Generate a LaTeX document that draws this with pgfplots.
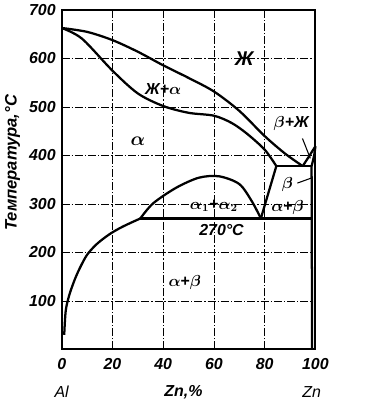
\documentclass[border=0pt]{standalone}
\usepackage{pgfplots}
\pgfplotsset{compat=1.18}
\usepackage{bm}
\usepackage{fontspec}
\setmainfont{Liberation Sans}
\pgfplotsset{phase/.style={black, solid, mark=none, line width=1.7pt}}
\begin{document}
\begin{tikzpicture}
\begin{axis}[
  at={(0pt,0pt)}, anchor=south west,
  scale only axis, width=191.25pt, height=255.75pt,
  xmin=0, xmax=100, ymin=0, ymax=700,
  xtick={0,20,40,60,80,100}, ytick={100,200,300,400,500,600,700},
  grid=major,
  major grid style={black, line width=0.5pt, dash pattern=on 6pt off 1.5pt on 1pt off 1.5pt},
  axis line style={line width=1.4pt},
  tick style={draw=none},
  tick label style={font=\bfseries\itshape\fontsize{12}{13}\selectfont},
  xticklabel style={yshift=-3pt},
  yticklabel style={xshift=-1pt},
  /pgf/number format/assume math mode=true,
  ylabel={Температура,°C},
  ylabel style={font=\bfseries\itshape\fontsize{12.5}{14}\selectfont, at={(rel axis cs:0,0.55)}, yshift=37pt, anchor=center},
  clip=false,
]
% liquidus
\addplot[phase, smooth] coordinates {(0,663) (10,655) (20,638) (30,614) (40,586) (50,560) (60,532) (70,492) (80,440) (88,404) (95,378)};
% solidus
\addplot[phase, smooth] coordinates {(0,663) (8,641) (20,575) (30,528) (40,502) (50,488) (60,482) (67,467) (73,445) (80,412) (84.6,378)};
% alpha solvus
\addplot[phase, smooth] coordinates {(1.0,30) (1.6,80) (3,112) (5,142) (7,166) (10,195) (14,218) (19,238) (24,253) (31,270)};
% miscibility dome
\addplot[phase, smooth] coordinates {(31,270) (36,301) (45,333) (54,354) (62,357) (70,341) (75,305) (78.5,270)};
% beta left boundary
\addplot[phase] coordinates {(84.6,378) (78.5,270)};
% eutectic line
\addplot[phase] coordinates {(84.6,378) (98.5,378)};
% eutectoid line
\addplot[phase] coordinates {(31,270) (98.5,270)};
% Zn solvus
\addplot[phase] coordinates {(98.5,378) (98.7,0)};
% Zn liquidus and solidus
\addplot[phase, smooth] coordinates {(95,378) (97.6,399) (100,419)};
\addplot[phase, smooth] coordinates {(98.5,378) (99.5,400) (100,419)};
% pointers
\addplot[phase, line width=0.8pt] coordinates {(94.9,435) (98,394)};
\addplot[phase, line width=0.8pt] coordinates {(92.9,343) (98.2,353)};
% labels
\node[font=\bfseries\itshape\fontsize{15}{16}\selectfont] at (axis cs:72,600) {Ж};
\node[font=\bfseries\itshape\fontsize{12}{13}\selectfont] at (axis cs:40,538) {Ж+$\bm{\alpha}$};
\node[font=\bfseries\fontsize{14}{15}\selectfont] at (axis cs:30,429) {$\bm{\alpha}$};
\node[font=\bfseries\itshape\fontsize{12}{13}\selectfont] at (axis cs:90.5,466) {$\bm{\beta}$+Ж};
\node[font=\bfseries\fontsize{13}{14}\selectfont] at (axis cs:89,341) {$\bm{\beta}$};
\node[font=\bfseries\fontsize{12}{13}\selectfont, inner sep=0pt] at (axis cs:89,292) {$\bm{\alpha}$+$\bm{\beta}$};
\node[font=\bfseries\fontsize{12}{13}\selectfont] at (axis cs:60,296) {$\bm{\alpha_1}$+$\bm{\alpha_2}$};
\node[font=\bfseries\itshape\fontsize{12}{13}\selectfont] at (axis cs:63,246) {270°C};
\node[font=\bfseries\fontsize{12}{13}\selectfont] at (axis cs:48.5,138) {$\bm{\alpha}$+$\bm{\beta}$};
\node[font=\itshape\fontsize{12}{13}\selectfont] at (axis cs:0,0) [yshift=-32pt] {Al};
\node[font=\bfseries\itshape\fontsize{12}{13}\selectfont] at (axis cs:48,0) [yshift=-32pt] {Zn,\%};
\node[font=\itshape\fontsize{12}{13}\selectfont] at (axis cs:98.5,0) [yshift=-32pt] {Zn};
\end{axis}
\path[use as bounding box] (-46.5pt,-48.75pt) rectangle (229.5pt,261.75pt);
\end{tikzpicture}
\end{document}
